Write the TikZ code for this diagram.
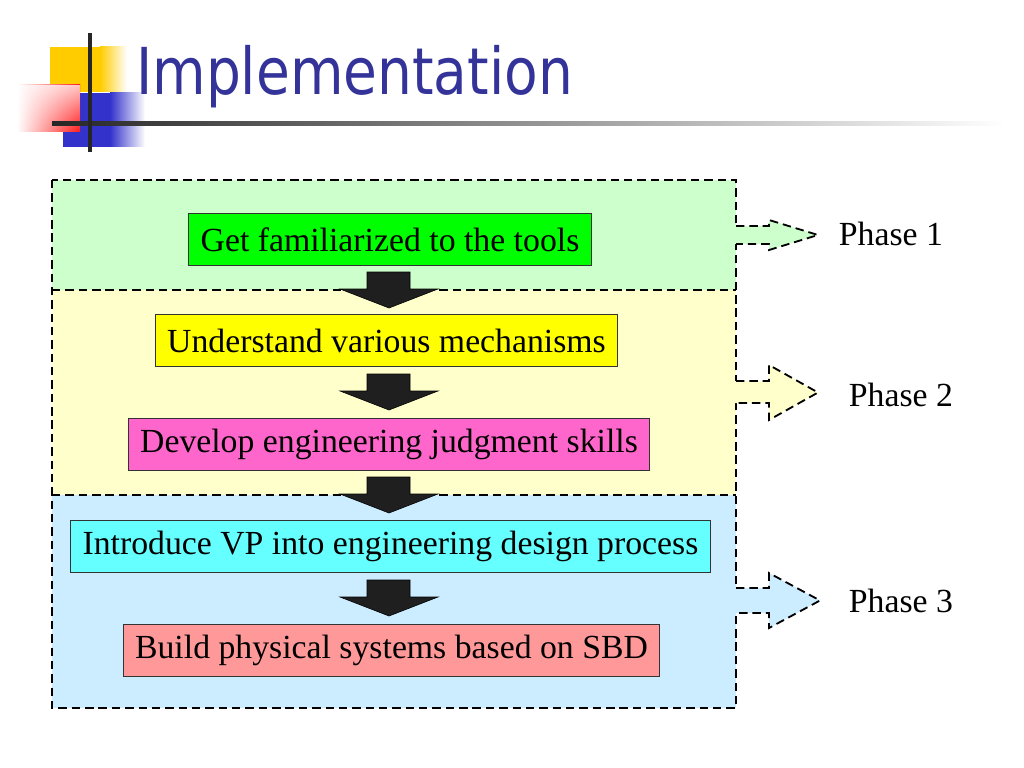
\documentclass[tikz,border=0pt]{standalone}
\usepackage{fontspec}
\setmainfont{Liberation Serif}
\newfontfamily\titlefont{DejaVu Sans}
\usetikzlibrary{fadings}

\definecolor{titleblue}{HTML}{333399}
\definecolor{regiongreen}{HTML}{CCFFCC}
\definecolor{regionyellow}{HTML}{FFFFCC}
\definecolor{regionblue}{HTML}{CCECFF}
\definecolor{boxgreen}{HTML}{00FF00}
\definecolor{boxyellow}{HTML}{FFFF00}
\definecolor{boxpink}{HTML}{FF66CC}
\definecolor{boxcyan}{HTML}{66FFFF}
\definecolor{boxsalmon}{HTML}{FF9999}
\definecolor{logoyellow}{HTML}{FFCC00}
\definecolor{logored}{HTML}{FF1A1A}
\definecolor{logoblue}{HTML}{3333CC}

% down block arrow between two steps
\newcommand{\downblock}[1]{%
  \filldraw[blockarrow] (367,#1) -- (410,#1) -- (410,#1+17) -- (438,#1+17)
    -- (389,#1+36) -- (340,#1+17) -- (367,#1+17) -- cycle;}
% dashed arrow from a phase region to its label
\newcommand{\phasearrow}[6]{%
  \fill[#1] (734,#2) -- (769,#2) -- (769,#4) -- (#6,{(#4+#5)/2}) -- (769,#5) -- (769,#3) -- (734,#3) -- cycle;
  \draw[phaseline] (736,#2) -- (769,#2) -- (769,#4) -- (#6,{(#4+#5)/2}) -- (769,#5) -- (769,#3) -- (736,#3);}

\begin{document}
\begin{tikzpicture}[x=0.025cm, y=-0.025cm,
    stepbox/.style={draw=black!80, line width=0.7pt, inner xsep=8.5pt, minimum height=37.5pt,
      font=\fontsize{24}{28}\selectfont},
    phaseline/.style={line width=1.3pt, dash pattern=on 6pt off 3.5pt},
    blockarrow/.style={fill=black!88, draw=black, line width=0.4pt},
    phaselabel/.style={anchor=west, font=\fontsize{24}{28}\selectfont}]
  \useasboundingbox (0,0) rectangle (1024,768);

  % Logo in the corner
  \fill[logoyellow] (50,47) rectangle (101,92);
  \shade[left color=logoyellow, right color=white] (100,47) rectangle (127,92);
  \fill[logoblue] (63,93) rectangle (111,147);
  \shade[left color=logoblue, right color=white] (110,93) rectangle (145,147);
  \shade[left color=white, middle color=logored!55, right color=logored] (17,85) rectangle (80,132);
  \fill[white, opacity=0.75, path fading=south] (17,85) rectangle (80,132);
  \shade[left color=black!85, middle color=black!30, right color=white] (52,122) rectangle (1005,126);
  \draw[line width=2.2pt, black!85] (90,33) -- (90,152);
  \node[anchor=base west, text=titleblue, inner sep=0pt] (title) at (136,95)
    {\titlefont\fontsize{46}{50}\selectfont\scalebox{0.85}[1]{Implementation}};

  % Phase regions
  \fill[regiongreen] (52,180) rectangle (736,290);
  \fill[regionyellow] (52,290) rectangle (736,495);
  \fill[regionblue] (52,495) rectangle (736,708);
  \draw[phaseline] (52,180) rectangle (736,708);
  \draw[phaseline] (52,290) -- (736,290);
  \draw[phaseline] (52,495) -- (736,495);

  % Steps
  \node[stepbox, fill=boxgreen] (tools) at (390,239.5) {Get familiarized to the tools};
  \node[stepbox, fill=boxyellow] (mech) at (386.5,340.5) {Understand various mechanisms};
  \node[stepbox, fill=boxpink] (judge) at (389,444.5) {Develop engineering judgment skills};
  \node[stepbox, fill=boxcyan] (vp) at (390.5,546.5) {Introduce VP into engineering design process};
  \node[stepbox, fill=boxsalmon] (sbd) at (391.5,650.5) {Build physical systems based on SBD};

  \downblock{272}
  \downblock{374}
  \downblock{477}
  \downblock{580}

  % Phase labels
  \phasearrow{regiongreen}{226}{244}{220}{250}{818}
  \phasearrow{regionyellow}{381}{403}{365}{420}{818}
  \phasearrow{regionblue}{588}{613}{573}{628}{820}
  \node[phaselabel] (ph1) at (834,234) {Phase 1};
  \node[phaselabel] (ph2) at (844,395) {Phase 2};
  \node[phaselabel] (ph3) at (844,601) {Phase 3};
\end{tikzpicture}
\end{document}
